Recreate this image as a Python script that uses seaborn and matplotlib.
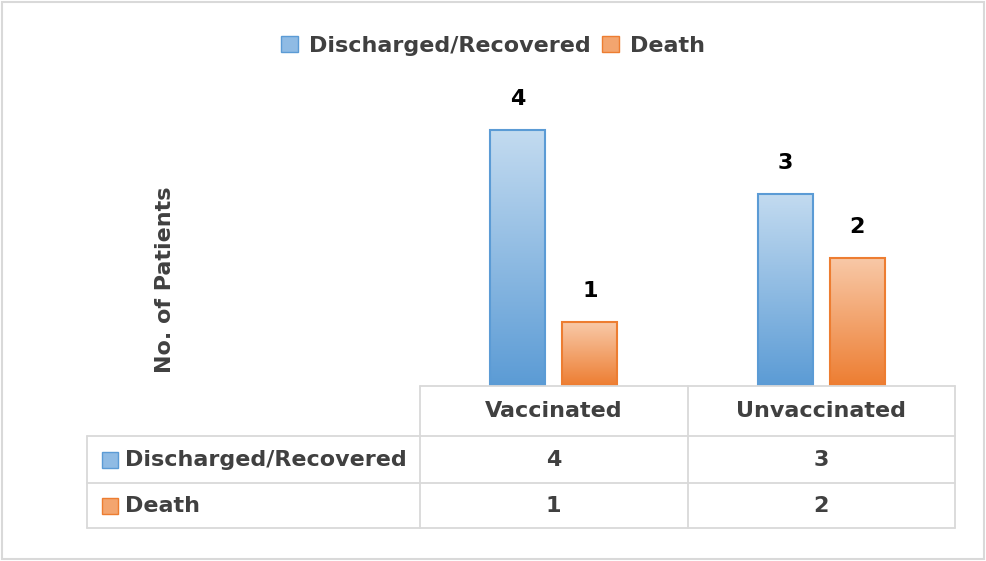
import numpy as np
import pandas as pd
import matplotlib.pyplot as plt
import seaborn as sns
from matplotlib.patches import Patch, Rectangle

# chart data
groups = ["Vaccinated", "Unvaccinated"]
outcomes = ["Discharged/Recovered", "Death"]
recovered = [4, 3]
death = [1, 2]

df = pd.DataFrame({
    "group": groups * 2,
    "outcome": [outcomes[0]] * 2 + [outcomes[1]] * 2,
    "patients": recovered + death,
})

blue_top, blue_bot = "#c3dbf0", "#5b9bd5"
orange_top, orange_bot = "#f8c9a8", "#ed7d31"
palette = {outcomes[0]: blue_bot, outcomes[1]: orange_bot}
grads = {outcomes[0]: (blue_top, blue_bot), outcomes[1]: (orange_top, orange_bot)}
swatch = {outcomes[0]: "#8fbbe4", outcomes[1]: "#f3a56f"}
text_col = "#404040"
grid_col = "#d9d9d9"
fs = 16

sns.set_style("white")
plt.rcParams["font.family"] = ["DejaVu Sans"]

W, H = 986, 561
fig = plt.figure(figsize=(W / 100, H / 100), dpi=100)

def px_axes(x0, y0, x1, y1):
    return fig.add_axes([x0 / W, 1 - y1 / H, (x1 - x0) / W, (y1 - y0) / H])

ax = px_axes(420, 66, 955, 386)
sns.barplot(data=df, x="group", y="patients", hue="outcome", order=groups,
            hue_order=outcomes, palette=palette, width=0.54, gap=0.24,
            ax=ax, legend=False, edgecolor="none")
ax.set_xticks([])
ax.set_yticks([])
ax.set_xlabel("")
ax.set_ylabel("")
for s in ax.spines.values():
    s.set_visible(False)

# gradient fill for each bar
for cont, name in zip(ax.containers, outcomes):
    top, bot = grads[name]
    cmap = plt.matplotlib.colors.LinearSegmentedColormap.from_list(name, [bot, top])
    for bar in cont:
        x0, y0 = bar.get_x(), bar.get_y()
        w, h = bar.get_width(), bar.get_height()
        img = ax.imshow(np.linspace(0, 1, 256).reshape(-1, 1), cmap=cmap,
                        extent=[x0, x0 + w, y0, y0 + h], origin="lower",
                        aspect="auto", zorder=2)
        img.set_clip_path(bar)
        ax.add_patch(Rectangle((x0, y0), w, h, fill=False, edgecolor=bot,
                               lw=1.5, zorder=3))
    ax.bar_label(cont, padding=15, fontsize=fs, fontweight="bold", color="black")
ax.set_xlim(-0.5, 1.5)
ax.set_ylim(0, 5)

# y label
fig.text(165 / W, 1 - 280 / H, "No. of Patients", rotation=90, ha="center",
         va="center", fontsize=fs, fontweight="bold", color=text_col)

# legend on top
handles = [Patch(facecolor=swatch[o], edgecolor=palette[o], label=o) for o in outcomes]
fig.legend(handles=handles, loc="center", bbox_to_anchor=(0.5, 1 - 46 / H),
           ncol=2, frameon=False, handlelength=0.75, handleheight=0.75,
           columnspacing=0.5, handletextpad=0.5,
           prop={"weight": "bold", "size": fs}, labelcolor=text_col)

# data table below the plot
tab = px_axes(87, 386, 955, 528)
left = -0.5 - 333 / 267.5
tab.set_xlim(left, 1.5)
row_edges = [386, 436, 483, 528]
tab.set_ylim(528, 386)
tab.axis("off")
kw = dict(color=grid_col, lw=1.3, clip_on=False)
tab.plot([-0.5, 1.5], [row_edges[0]] * 2, **kw)
for r in row_edges[1:]:
    tab.plot([left, 1.5], [r, r], **kw)
tab.plot([left, left], [row_edges[1], row_edges[3]], **kw)
for xv in [-0.5, 0.5, 1.5]:
    tab.plot([xv, xv], [row_edges[0], row_edges[3]], **kw)

for i, g in enumerate(groups):
    tab.text(i, (row_edges[0] + row_edges[1]) / 2, g, ha="center", va="center",
             fontsize=fs, fontweight="bold", color=text_col)
for r, (name, vals) in enumerate(zip(outcomes, [recovered, death])):
    yc = (row_edges[r + 1] + row_edges[r + 2]) / 2
    tab.plot(left + 23 / 267.5, yc, marker="s", markersize=12,
             markerfacecolor=swatch[name], markeredgecolor=palette[name],
             clip_on=False)
    tab.text(left + 38 / 267.5, yc, name, ha="left", va="center",
             fontsize=fs, fontweight="bold", color=text_col)
    for i, v in enumerate(vals):
        tab.text(i, yc, str(v), ha="center", va="center", fontsize=fs,
                 fontweight="bold", color=text_col)

# chart border
fig.patches.append(Rectangle((1.5 / W, 2 / H), (W - 4) / W, (H - 4) / H,
                             transform=fig.transFigure, fill=False,
                             edgecolor=grid_col, lw=1.5))

fig.savefig("out.png", dpi=100)
